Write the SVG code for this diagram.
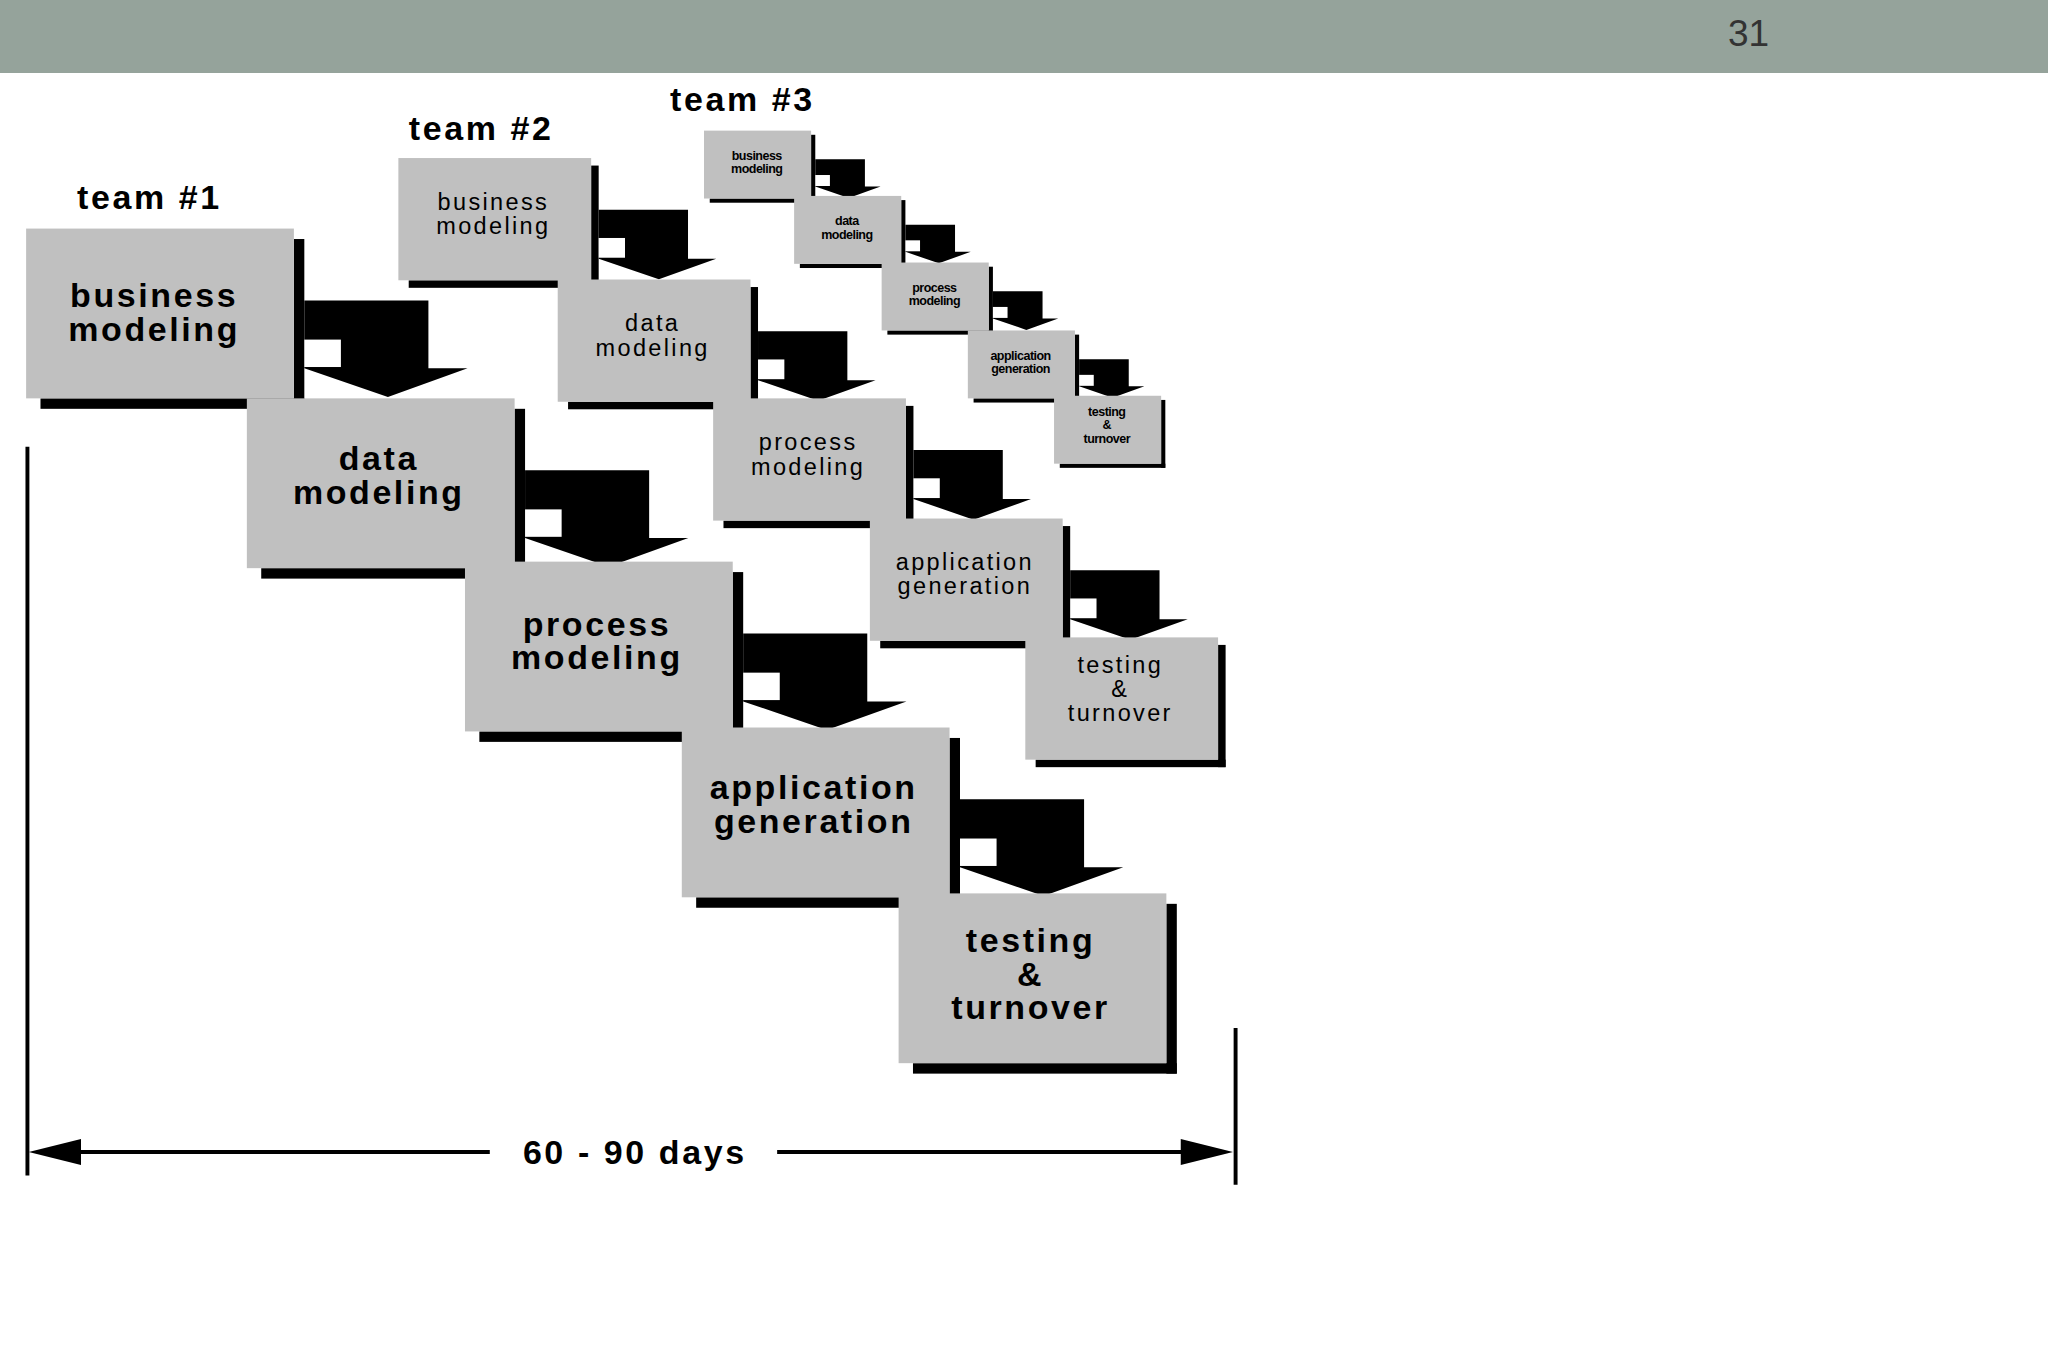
<svg xmlns="http://www.w3.org/2000/svg" width="2048" height="1365" viewBox="0 0 2048 1365">
<style>
.box{fill:#c0c0c0}
.sh{fill:#000}
.t1{font-family:"Liberation Sans",Arial,sans-serif;font-weight:bold;font-size:26px;letter-spacing:2px;text-anchor:middle;fill:#000}
.t2{font-family:"Liberation Sans",Arial,sans-serif;font-size:25px;letter-spacing:2.5px;text-anchor:middle;fill:#000}
.t3{font-family:"Liberation Sans",Arial,sans-serif;font-weight:bold;font-size:24px;letter-spacing:-1px;text-anchor:middle;fill:#000}
.team{font-family:"Liberation Sans",Arial,sans-serif;font-weight:bold;font-size:26px;letter-spacing:2px;fill:#000}
</style>
<defs>
<g id="stage">
<rect class="sh" x="205" y="8" width="8" height="130"/>
<rect class="sh" x="11" y="130" width="202" height="8"/>
<rect class="box" x="0" y="0" width="205" height="130"/>
<path class="sh" d="M213,55 H308 V107 H338 L277,129 L213,107 Z"/>
<rect fill="#fff" x="213" y="85" width="28" height="21"/>
</g>
<g id="last">
<rect class="sh" x="205" y="8" width="8" height="130"/>
<rect class="sh" x="11" y="130" width="202" height="8"/>
<rect class="box" x="0" y="0" width="205" height="130"/>
</g>
</defs>
<rect x="0" y="0" width="2048" height="73" fill="#95a39b"/>
<text x="1728" y="46" font-family="Liberation Sans,Arial,sans-serif" font-size="37" fill="#333">31</text>
<g transform="scale(1.30612)">
<g id="team-labels">
<text class="team" x="59" y="160">team #1</text>
<text class="team" x="313" y="107">team #2</text>
<text class="team" x="513" y="85">team #3</text>
</g>
<g id="team3">
<g id="t3-1" transform="translate(539,100) scale(0.4)"><use href="#stage"/><text class="t3" x="101" y="56">business</text><text class="t3" x="101" y="82">modeling</text></g>
<g id="t3-2" transform="translate(608,150) scale(0.4)"><use href="#stage"/><text class="t3" x="101" y="56">data</text><text class="t3" x="101" y="82">modeling</text></g>
<g id="t3-3" transform="translate(675,201) scale(0.4)"><use href="#stage"/><text class="t3" x="101" y="56">process</text><text class="t3" x="101" y="82">modeling</text></g>
<g id="t3-4" transform="translate(741,253) scale(0.4)"><use href="#stage"/><text class="t3" x="101" y="56">application</text><text class="t3" x="101" y="82">generation</text></g>
<g id="t3-5" transform="translate(807,303) scale(0.4)"><use href="#last"/><text class="t3" x="101" y="38">testing</text><text class="t3" x="101" y="63">&amp;</text><text class="t3" x="101" y="90">turnover</text></g>
</g>
<g id="team2">
<g id="t2-1" transform="translate(305,121) scale(0.72)"><use href="#stage"/><text class="t2" x="101" y="55">business</text><text class="t2" x="101" y="81">modeling</text></g>
<g id="t2-2" transform="translate(427,214) scale(0.72)"><use href="#stage"/><text class="t2" x="101" y="55">data</text><text class="t2" x="101" y="81">modeling</text></g>
<g id="t2-3" transform="translate(546,305) scale(0.72)"><use href="#stage"/><text class="t2" x="101" y="55">process</text><text class="t2" x="101" y="81">modeling</text></g>
<g id="t2-4" transform="translate(666,397) scale(0.72)"><use href="#stage"/><text class="t2" x="101" y="55">application</text><text class="t2" x="101" y="80">generation</text></g>
<g id="t2-5" transform="translate(785,488) scale(0.72)"><use href="#last"/><text class="t2" x="101" y="38">testing</text><text class="t2" x="101" y="63">&amp;</text><text class="t2" x="101" y="89">turnover</text></g>
</g>
<g id="team1">
<g id="t1-1" transform="translate(20,175)"><use href="#stage"/><text class="t1" x="98" y="60">business</text><text class="t1" x="98" y="86">modeling</text></g>
<g id="t1-2" transform="translate(189,305)"><use href="#stage"/><text class="t1" x="101" y="55">data</text><text class="t1" x="101" y="81">modeling</text></g>
<g id="t1-3" transform="translate(356,430)"><use href="#stage"/><text class="t1" x="101" y="57">process</text><text class="t1" x="101" y="82">modeling</text></g>
<g id="t1-4" transform="translate(522,557)"><use href="#stage"/><text class="t1" x="101" y="55">application</text><text class="t1" x="101" y="81">generation</text></g>
<g id="t1-5" transform="translate(688,684)"><use href="#last"/><text class="t1" x="101" y="45">testing</text><text class="t1" x="101" y="71">&amp;</text><text class="t1" x="101" y="96">turnover</text></g>
</g>
<g id="connectors" stroke="#000" stroke-width="3">
<line x1="21" y1="342" x2="21" y2="900"/>
<line x1="946" y1="787" x2="946" y2="907"/>
<line x1="40" y1="882" x2="375" y2="882"/>
<line x1="595" y1="882" x2="925" y2="882"/>
<polygon points="22,882 62,872 62,892" fill="#000" stroke="none"/>
<polygon points="944,882 904,872 904,892" fill="#000" stroke="none"/>
</g>
<text class="team" x="486" y="891" text-anchor="middle">60 - 90 days</text>
</g>
</svg>
